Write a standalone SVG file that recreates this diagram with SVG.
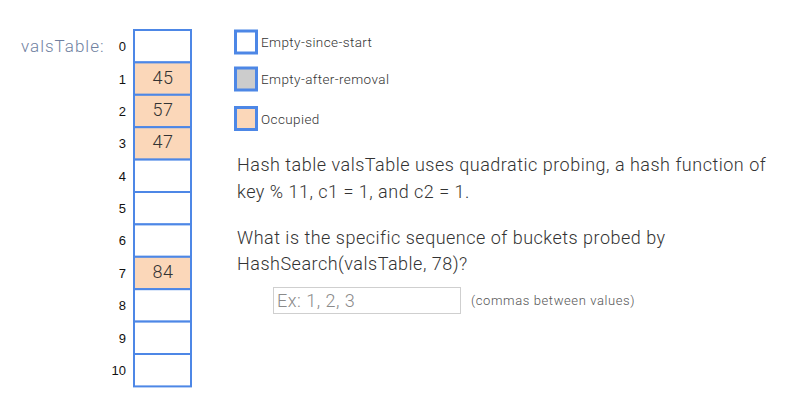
<svg xmlns="http://www.w3.org/2000/svg" width="808" height="408" viewBox="0 0 808 408">
<style>
.cell{stroke:#4d87e6;stroke-width:2}
.empty{fill:#ffffff}
.occ{fill:#fbd7b9}
.rem{fill:#cccccc}
.idx{font-family:"Liberation Sans",Arial,sans-serif;font-size:13px;fill:#111;text-anchor:end}
.val{font-family:Roboto,"Liberation Sans",sans-serif;font-weight:300;font-size:18px;fill:#333;text-anchor:middle;letter-spacing:0.5px}
.leg{stroke:#4d87e6;stroke-width:3}
.legt{font-family:Roboto,"Liberation Sans",sans-serif;font-weight:300;font-size:13.5px;fill:#333;letter-spacing:0.4px}
.q{font-family:Roboto,"Liberation Sans",sans-serif;font-weight:300;font-size:18px;fill:#333;letter-spacing:0.5px}
</style>
<rect width="808" height="408" fill="#ffffff"/>
<text x="21" y="52" font-family="Roboto,'Liberation Sans',sans-serif" font-weight="300" font-size="17" letter-spacing="1" fill="#6f7f9f">valsTable:</text>
<g id="table">
<g id="b0"><rect class="cell empty" x="134" y="30" width="57" height="32.4"/><text class="idx" x="126" y="51">0</text></g>
<g id="b1"><rect class="cell occ" x="134" y="62.4" width="57" height="32.4"/><text class="idx" x="126" y="84">1</text><text class="val" x="163" y="84">45</text></g>
<g id="b2"><rect class="cell occ" x="134" y="94.8" width="57" height="32.4"/><text class="idx" x="126" y="116">2</text><text class="val" x="163" y="116">57</text></g>
<g id="b3"><rect class="cell occ" x="134" y="127.2" width="57" height="32.4"/><text class="idx" x="126" y="148">3</text><text class="val" x="163" y="148">47</text></g>
<g id="b4"><rect class="cell empty" x="134" y="159.6" width="57" height="32.4"/><text class="idx" x="126" y="181">4</text></g>
<g id="b5"><rect class="cell empty" x="134" y="192" width="57" height="32.4"/><text class="idx" x="126" y="213">5</text></g>
<g id="b6"><rect class="cell empty" x="134" y="224.4" width="57" height="32.4"/><text class="idx" x="126" y="245">6</text></g>
<g id="b7"><rect class="cell occ" x="134" y="256.8" width="57" height="32.4"/><text class="idx" x="126" y="278">7</text><text class="val" x="163" y="278">84</text></g>
<g id="b8"><rect class="cell empty" x="134" y="289.2" width="57" height="32.4"/><text class="idx" x="126" y="310">8</text></g>
<g id="b9"><rect class="cell empty" x="134" y="321.6" width="57" height="32.4"/><text class="idx" x="126" y="343">9</text></g>
<g id="b10"><rect class="cell empty" x="134" y="354" width="57" height="32.4"/><text class="idx" x="126" y="375">10</text></g>
</g>
<g id="legend">
<g id="leg-empty"><rect class="leg empty" x="235.5" y="31" width="21" height="22"/><text class="legt" x="261" y="47">Empty-since-start</text></g>
<g id="leg-removed"><rect class="leg rem" x="235.5" y="68" width="21" height="22"/><text class="legt" x="261" y="84">Empty-after-removal</text></g>
<g id="leg-occ"><rect class="leg occ" x="235.5" y="107.5" width="21" height="22"/><text class="legt" x="261" y="124">Occupied</text></g>
</g>
<g id="question">
<text class="q" x="237" y="171">Hash table valsTable uses quadratic probing, a hash function of</text>
<text class="q" x="237" y="198">key % 11, c1 = 1, and c2 = 1.</text>
<text class="q" x="237" y="244">What is the specific sequence of buckets probed by</text>
<text class="q" x="237" y="270">HashSearch(valsTable, 78)?</text>
</g>
<g id="answer">
<rect x="273.5" y="287.5" width="187" height="26" fill="#ffffff" stroke="#cfcfcf" stroke-width="1"/>
<text x="277" y="307" font-family="Roboto,'Liberation Sans',sans-serif" font-weight="300" font-size="18" letter-spacing="0.5" fill="#8a8a8a">Ex: 1, 2, 3</text>
<text x="471" y="305" font-family="Roboto,'Liberation Sans',sans-serif" font-weight="300" font-size="13" letter-spacing="0.6" fill="#555">(commas between values)</text>
</g>
</svg>
